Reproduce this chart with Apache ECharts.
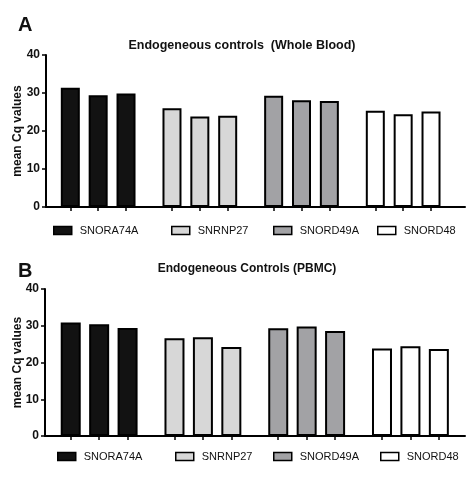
<!DOCTYPE html>
<html>
<head>
<meta charset="utf-8">
<script src="https://cdn.jsdelivr.net/npm/echarts@6/dist/echarts.min.js"></script>
<style>
html, body { margin: 0; padding: 0; background: #fff; }
#main { width: 474px; height: 484px; }
</style>
</head>
<body>
<div id="main"></div>
<script>
var genes = ['SNORA74A', 'SNRNP27', 'SNORD49A', 'SNORD48'];
var colors = ['#121212', '#d7d7d7', '#a2a2a5', '#ffffff'];
var yTicks = [0, 10, 20, 30, 40];

// mean Cq values, three bars per gene
var wholeBlood = [
    [31.4, 29.4, 29.9],
    [26.0, 23.8, 24.0],
    [29.3, 28.1, 27.9],
    [25.3, 24.4, 25.1]
];
var pbmc = [
    [30.9, 30.4, 29.4],
    [26.6, 26.9, 24.2],
    [29.3, 29.8, 28.6],
    [23.8, 24.4, 23.7]
];

var groupStep = 3.65;
var font = 'Liberation Sans, Arial, sans-serif';

function barPositions() {
    var pos = [];
    for (var g = 0; g < genes.length; g++) {
        for (var i = 0; i < 3; i++) {
            pos.push(g * groupStep + i);
        }
    }
    return pos;
}

function makeSeries(values, axisIndex, barWidth) {
    return genes.map(function (name, g) {
        return {
            name: name,
            type: 'bar',
            xAxisIndex: axisIndex,
            yAxisIndex: axisIndex,
            barWidth: barWidth,
            barGap: '-100%',
            itemStyle: {
                color: colors[g],
                borderColor: '#000',
                borderWidth: 2
            },
            emphasis: { disabled: true },
            data: values[g].map(function (v, i) {
                return [g * groupStep + i, v];
            })
        };
    });
}

function makeXAxis(gridIndex, min, max) {
    return {
        type: 'value',
        gridIndex: gridIndex,
        min: min,
        max: max,
        axisLine: { show: true, onZero: false, lineStyle: { color: '#000', width: 2 } },
        axisTick: { show: true, length: 4, customValues: barPositions(), lineStyle: { color: '#000', width: 1.5 } },
        axisLabel: { show: false },
        splitLine: { show: false }
    };
}

function makeYAxis(gridIndex, nameGap) {
    return {
        type: 'value',
        gridIndex: gridIndex,
        min: yTicks[0],
        max: yTicks[yTicks.length - 1],
        interval: 10,
        name: 'mean Cq values',
        nameLocation: 'middle',
        nameGap: nameGap,
        nameMoveOverlap: false,
        nameTextStyle: { fontFamily: font, fontWeight: 'bold', fontSize: 12, color: '#111' },
        axisLine: { show: true, onZero: false, lineStyle: { color: '#000', width: 2 } },
        axisTick: { show: true, length: 4, lineStyle: { color: '#000', width: 1.5 } },
        axisLabel: { margin: 6, fontFamily: font, fontWeight: 'bold', fontSize: 12, color: '#111' },
        splitLine: { show: false }
    };
}

function makeLegends(lefts, top) {
    return genes.map(function (name, g) {
        return {
            data: [name],
            left: lefts[g],
            top: top,
            padding: 0,
            icon: 'rect',
            itemWidth: 18,
            itemHeight: 8,
            selectedMode: false,
            itemStyle: { borderColor: '#000', borderWidth: 1.5 },
            textStyle: { fontFamily: font, fontSize: 11, color: '#111', padding: [0, 0, 0, 3] }
        };
    });
}

var myChart = echarts.init(document.getElementById('main'));

var option = {
    animation: false,
    title: [
        { text: 'A', left: 18, top: 15, padding: 0, textStyle: { fontFamily: font, fontWeight: 'bold', fontSize: 20, color: '#111' } },
        { text: 'Endogeneous controls  (Whole Blood)', left: 242, top: 39, textAlign: 'center', padding: 0,
          textStyle: { fontFamily: font, fontWeight: 'bold', fontSize: 12.5, color: '#111' } },
        { text: 'B', left: 18, top: 261, padding: 0, textStyle: { fontFamily: font, fontWeight: 'bold', fontSize: 20, color: '#111' } },
        { text: 'Endogeneous Controls (PBMC)', left: 247, top: 263, textAlign: 'center', padding: 0,
          textStyle: { fontFamily: font, fontWeight: 'bold', fontSize: 12, color: '#111' } }
    ],
    legend: makeLegends([53, 171, 273, 377], 225).concat(makeLegends([57, 175, 273, 380], 451)),
    grid: [
        { left: 46, right: 9, top: 55, bottom: 277 },
        { left: 45, right: 9, top: 289, bottom: 48 }
    ],
    xAxis: [
        makeXAxis(0, -0.873, 14.17),
        makeXAxis(1, -0.905, 13.87)
    ],
    yAxis: [
        makeYAxis(0, 22.5),
        makeYAxis(1, 21.5)
    ],
    series: makeSeries(wholeBlood, 0, 19).concat(makeSeries(pbmc, 1, 20))
};

myChart.setOption(option);
window.addEventListener("resize", function () {
    myChart.resize();
});
</script>
</body>
</html>
